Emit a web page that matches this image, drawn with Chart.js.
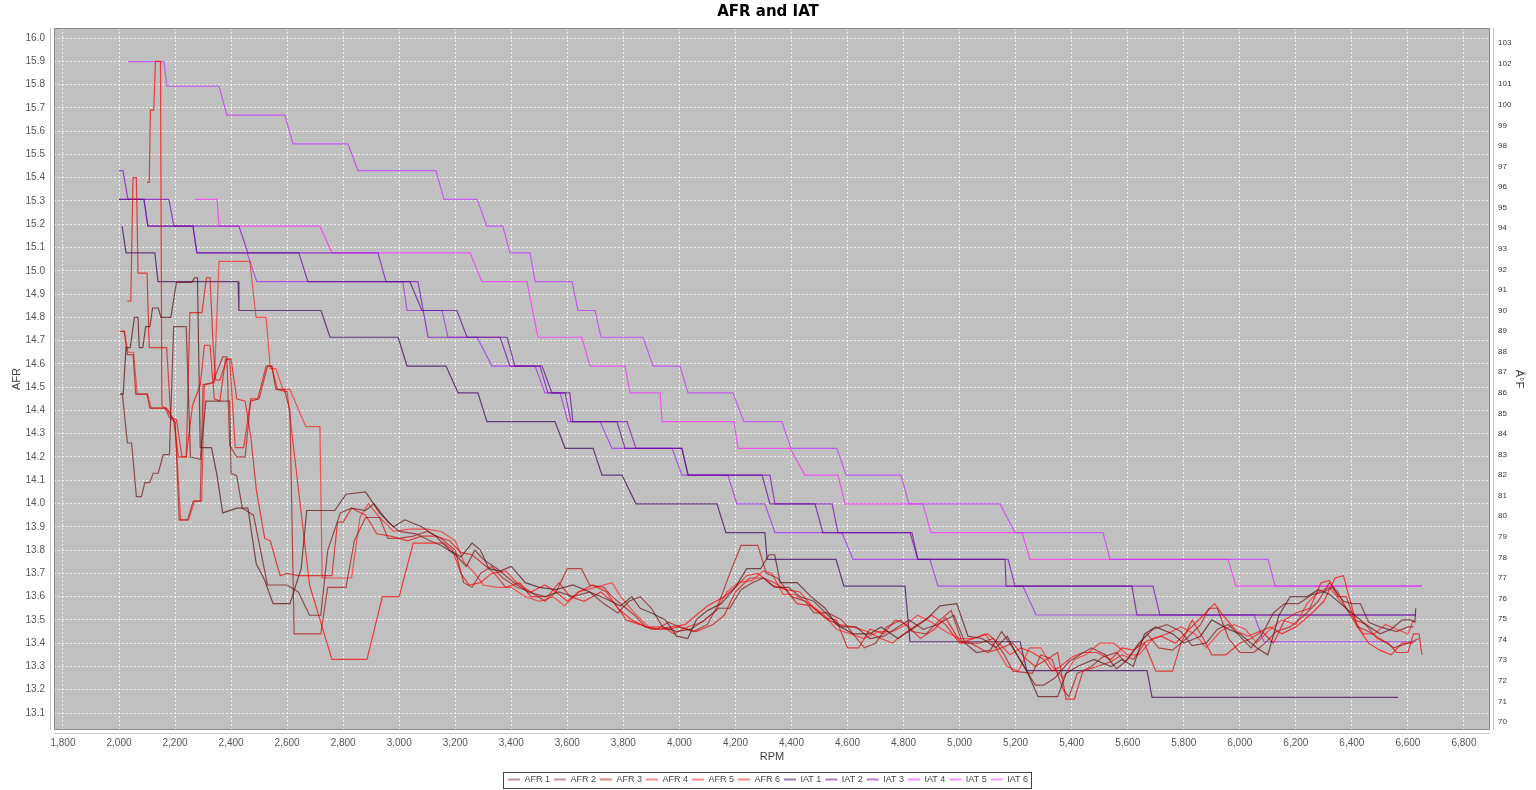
<!DOCTYPE html>
<html lang="en">
<head>
  <meta charset="UTF-8">
  <title>AFR and IAT</title>
  <script src="https://cdn.jsdelivr.net/npm/chart.js"></script>
  <style>
    body { margin: 0; background: #fff; }
    canvas { display: block; }
  </style>
</head>
<body>
  <canvas id="afrChart" width="1536" height="790"></canvas>
  <script>
    // --- log data, [rpm, value] pairs ---
    const afr1 = [[2005,14.47],[2015,14.47],[2025,14.67],[2040,14.67],[2055,14.80],[2068,14.80],[2072,14.67],[2085,14.67],[2095,14.76],[2110,14.76],[2120,14.84],[2140,14.84],[2150,14.80],[2185,14.80],[2205,14.95],[2260,14.95],[2270,14.97],[2280,14.97],[2290,14.24],[2330,14.24],[2350,14.12],[2370,13.96],[2420,13.98],[2460,13.98],[2490,13.74],[2520,13.67],[2550,13.57],[2610,13.57],[2650,13.72],[2670,13.97],[2770,13.97],[2810,14.04],[2880,14.05],[2930,13.96],[2980,13.90],[3020,13.93],[3080,13.90],[3130,13.86],[3180,13.80],[3220,13.77],[3260,13.83],[3290,13.80],[3320,13.72],[3360,13.71],[3400,13.73],[3450,13.66],[3500,13.64],[3560,13.63],[3620,13.65],[3680,13.62],[3740,13.59],[3790,13.56],[3830,13.60],[3860,13.55],[3900,13.53],[3950,13.50],[3990,13.43],[4030,13.42],[4060,13.50],[4100,13.54],[4150,13.57],[4200,13.64],[4240,13.72],[4290,13.72],[4320,13.78],[4340,13.78],[4360,13.66],[4420,13.66],[4470,13.60],[4520,13.55],[4560,13.48],[4620,13.44],[4680,13.44],[4720,13.47],[4780,13.42],[4830,13.46],[4880,13.50],[4930,13.56],[4990,13.57],[5030,13.43],[5080,13.42],[5130,13.38],[5170,13.43],[5200,13.36],[5240,13.28],[5280,13.17],[5350,13.17],[5380,13.27],[5420,13.30],[5480,13.33],[5540,13.30],[5580,13.33],[5620,13.30],[5660,13.44],[5700,13.47],[5760,13.44],[5800,13.40],[5860,13.43],[5900,13.50],[5960,13.46],[6000,13.44],[6060,13.38],[6100,13.35],[6140,13.52],[6180,13.60],[6240,13.60],[6280,13.63],[6320,13.61],[6360,13.57],[6400,13.53],[6450,13.48],[6500,13.44],[6540,13.46],[6580,13.50],[6610,13.50],[6625,13.49],[6628,13.55]];
    const afr2 = [[2005,14.47],[2012,14.47],[2030,14.26],[2045,14.26],[2062,14.03],[2080,14.03],[2092,14.09],[2110,14.09],[2122,14.13],[2140,14.13],[2158,14.21],[2180,14.21],[2195,14.76],[2240,14.76],[2255,14.20],[2290,14.19],[2310,14.44],[2395,14.44],[2400,14.13],[2420,14.12],[2440,13.98],[2480,13.95],[2530,13.65],[2600,13.65],[2640,13.62],[2680,13.52],[2720,13.52],[2745,13.80],[2790,13.96],[2830,13.98],[2880,13.97],[2910,14.00],[2960,13.92],[3000,13.88],[3060,13.87],[3110,13.84],[3150,13.82],[3200,13.78],[3240,13.73],[3270,13.80],[3300,13.76],[3350,13.72],[3410,13.66],[3460,13.62],[3520,13.60],[3570,13.62],[3620,13.60],[3680,13.62],[3730,13.57],[3780,13.53],[3820,13.58],[3860,13.60],[3900,13.55],[3940,13.47],[3990,13.45],[4040,13.46],[4090,13.50],[4140,13.55],[4180,13.55],[4220,13.63],[4260,13.66],[4300,13.68],[4340,13.64],[4390,13.64],[4430,13.60],[4480,13.58],[4530,13.52],[4580,13.47],[4630,13.47],[4680,13.42],[4730,13.43],[4780,13.47],[4820,13.50],[4870,13.46],[4920,13.48],[4980,13.52],[5020,13.40],[5060,13.36],[5110,13.37],[5150,13.45],[5190,13.38],[5230,13.30],[5270,13.22],[5300,13.22],[5340,13.25],[5390,13.32],[5430,13.35],[5470,13.38],[5520,13.35],[5560,13.29],[5600,13.33],[5640,13.40],[5690,13.46],[5740,13.48],[5790,13.45],[5830,13.39],[5880,13.40],[5920,13.46],[5960,13.48],[6000,13.43],[6040,13.38],[6080,13.44],[6120,13.53],[6160,13.57],[6210,13.57],[6260,13.61],[6300,13.62],[6330,13.64],[6370,13.58],[6400,13.57],[6430,13.57],[6460,13.49],[6500,13.47],[6560,13.45],[6600,13.47],[6620,13.47]];
    const afr3 = [[2005,14.74],[2018,14.74],[2030,14.64],[2050,14.64],[2060,14.47],[2100,14.47],[2110,14.41],[2165,14.41],[2180,14.37],[2200,14.35],[2215,13.93],[2245,13.93],[2265,14.01],[2290,14.01],[2300,14.51],[2335,14.52],[2370,14.63],[2385,14.63],[2395,14.25],[2420,14.20],[2450,14.20],[2470,14.44],[2500,14.45],[2530,14.59],[2545,14.59],[2560,14.49],[2590,14.49],[2610,14.40],[2625,13.44],[2720,13.44],[2745,13.64],[2810,13.64],[2840,13.84],[2880,13.94],[2930,13.94],[2960,13.85],[3000,13.85],[3050,13.86],[3100,13.88],[3150,13.85],[3200,13.80],[3230,13.66],[3260,13.64],[3290,13.70],[3330,13.73],[3370,13.68],[3420,13.64],[3470,13.62],[3520,13.58],[3560,13.62],[3600,13.72],[3650,13.72],[3680,13.65],[3730,13.64],[3760,13.60],[3800,13.56],[3840,13.52],[3880,13.47],[3920,13.46],[3960,13.49],[4000,13.47],[4050,13.45],[4100,13.48],[4140,13.57],[4180,13.70],[4220,13.82],[4280,13.82],[4310,13.70],[4350,13.68],[4400,13.60],[4450,13.58],[4480,13.53],[4530,13.53],[4580,13.50],[4620,13.44],[4660,13.38],[4700,13.40],[4740,13.47],[4790,13.50],[4830,13.45],[4880,13.44],[4930,13.50],[4970,13.54],[5010,13.40],[5070,13.40],[5120,13.42],[5160,13.35],[5190,13.28],[5260,13.27],[5290,13.35],[5330,13.33],[5370,13.20],[5390,13.17],[5420,13.27],[5470,13.30],[5510,13.34],[5560,13.36],[5590,13.32],[5630,13.38],[5670,13.44],[5710,13.38],[5760,13.37],[5810,13.42],[5860,13.48],[5890,13.55],[5920,13.55],[5960,13.42],[6000,13.36],[6050,13.36],[6090,13.40],[6130,13.45],[6180,13.47],[6230,13.52],[6280,13.58],[6320,13.66],[6350,13.62],[6380,13.55],[6420,13.47],[6460,13.45],[6500,13.42],[6550,13.38],[6600,13.40],[6640,13.42]];
    const afr4 = [[2030,14.87],[2042,14.87],[2050,15.40],[2062,15.40],[2068,14.99],[2100,14.99],[2108,14.67],[2170,14.67],[2185,14.37],[2205,14.36],[2225,14.20],[2240,14.20],[2253,14.82],[2296,14.82],[2312,14.97],[2325,14.97],[2335,14.70],[2345,14.53],[2360,14.53],[2385,14.62],[2400,14.62],[2420,14.45],[2450,14.44],[2470,14.29],[2490,14.06],[2520,13.85],[2540,13.84],[2575,13.69],[2600,13.70],[2640,13.69],[2700,13.69],[2760,13.69],[2780,13.92],[2800,13.92],[2830,13.98],[2880,13.95],[2920,13.87],[2970,13.86],[3030,13.84],[3080,13.86],[3130,13.86],[3180,13.84],[3220,13.79],[3260,13.78],[3300,13.74],[3340,13.70],[3380,13.64],[3430,13.66],[3470,13.60],[3530,13.60],[3570,13.66],[3610,13.60],[3660,13.58],[3720,13.62],[3770,13.57],[3810,13.50],[3860,13.48],[3900,13.46],[3960,13.46],[4000,13.47],[4060,13.45],[4120,13.48],[4160,13.52],[4200,13.62],[4250,13.68],[4300,13.68],[4340,13.66],[4380,13.63],[4420,13.57],[4470,13.56],[4520,13.51],[4560,13.50],[4600,13.38],[4640,13.38],[4680,13.46],[4730,13.44],[4770,13.50],[4810,13.48],[4860,13.42],[4910,13.46],[4950,13.51],[5000,13.41],[5040,13.40],[5100,13.36],[5150,13.38],[5190,13.40],[5230,13.34],[5270,13.30],[5310,13.33],[5350,13.36],[5380,13.16],[5410,13.16],[5440,13.28],[5490,13.30],[5540,13.32],[5580,13.35],[5620,13.33],[5660,13.40],[5700,13.28],[5760,13.28],[5790,13.40],[5830,13.50],[5870,13.42],[5900,13.35],[5950,13.35],[6000,13.40],[6040,13.42],[6080,13.45],[6120,13.40],[6160,13.50],[6200,13.53],[6250,13.55],[6290,13.66],[6320,13.67],[6350,13.60],[6380,13.60],[6410,13.50],[6450,13.48],[6490,13.42],[6530,13.40],[6560,13.36],[6600,13.36],[6620,13.44],[6640,13.44],[6650,13.35]];
    const afr5 = [[2100,15.38],[2108,15.38],[2112,15.69],[2124,15.69],[2130,15.90],[2148,15.90],[2153,14.42],[2175,14.40],[2195,14.36],[2212,14.20],[2240,14.20],[2262,14.42],[2290,14.51],[2305,14.68],[2325,14.68],[2340,14.45],[2360,14.44],[2380,14.62],[2395,14.62],[2415,14.24],[2445,14.24],[2470,14.45],[2495,14.45],[2525,14.59],[2545,14.59],[2565,14.49],[2600,14.48],[2680,13.65],[2760,13.33],[2885,13.33],[2940,13.60],[3000,13.60],[3050,13.83],[3160,13.83],[3190,13.80],[3220,13.70],[3250,13.65],[3290,13.66],[3330,13.70],[3380,13.71],[3420,13.66],[3470,13.62],[3520,13.65],[3560,13.62],[3600,13.58],[3640,13.62],[3690,13.65],[3740,13.62],[3780,13.55],[3830,13.50],[3880,13.47],[3930,13.46],[3970,13.47],[4020,13.48],[4060,13.52],[4100,13.56],[4160,13.60],[4200,13.64],[4240,13.69],[4280,13.70],[4330,13.65],[4380,13.63],[4430,13.62],[4480,13.55],[4530,13.50],[4570,13.48],[4620,13.47],[4670,13.45],[4720,13.42],[4760,13.40],[4800,13.44],[4850,13.48],[4900,13.52],[4950,13.48],[5000,13.40],[5050,13.42],[5100,13.44],[5140,13.40],[5180,13.35],[5220,13.38],[5260,13.36],[5300,13.33],[5330,13.28],[5360,13.30],[5400,13.34],[5440,13.36],[5490,13.36],[5540,13.33],[5580,13.38],[5620,13.37],[5670,13.41],[5720,13.43],[5770,13.40],[5820,13.46],[5870,13.52],[5910,13.57],[5940,13.52],[5990,13.45],[6030,13.43],[6070,13.45],[6110,13.47],[6150,13.44],[6200,13.47],[6250,13.52],[6300,13.58],[6340,13.68],[6370,13.69],[6390,13.60],[6420,13.47],[6460,13.40],[6500,13.37],[6540,13.35],[6580,13.40],[6620,13.40]];
    const afr6 = [[2005,14.74],[2020,14.74],[2032,14.65],[2052,14.65],[2065,14.47],[2102,14.47],[2115,14.41],[2170,14.41],[2188,14.37],[2200,14.35],[2220,13.93],[2248,13.93],[2270,14.01],[2295,14.01],[2305,14.51],[2340,14.52],[2357,15.04],[2467,15.04],[2489,14.80],[2525,14.80],[2540,14.58],[2560,14.58],[2585,14.49],[2610,14.49],[2667,14.33],[2717,14.33],[2725,13.68],[2830,13.68],[2860,13.94],[2890,14.00],[2930,13.94],[2980,13.88],[3040,13.89],[3100,13.89],[3150,13.88],[3200,13.84],[3230,13.75],[3270,13.70],[3300,13.65],[3350,13.64],[3400,13.64],[3450,13.60],[3500,13.58],[3550,13.60],[3590,13.56],[3640,13.62],[3700,13.64],[3760,13.66],[3790,13.60],[3840,13.53],[3890,13.47],[3940,13.47],[3980,13.44],[4030,13.47],[4080,13.49],[4130,13.54],[4170,13.62],[4210,13.66],[4260,13.67],[4300,13.71],[4330,13.70],[4370,13.61],[4410,13.61],[4460,13.57],[4510,13.53],[4560,13.46],[4610,13.44],[4660,13.42],[4710,13.45],[4760,13.45],[4810,13.48],[4850,13.52],[4900,13.49],[4950,13.45],[5000,13.42],[5050,13.42],[5090,13.44],[5130,13.38],[5170,13.30],[5210,13.28],[5250,13.38],[5290,13.38],[5330,13.30],[5370,13.25],[5410,13.33],[5450,13.35],[5500,13.40],[5550,13.40],[5600,13.35],[5640,13.35],[5690,13.42],[5740,13.44],[5790,13.47],[5840,13.44],[5880,13.38],[5930,13.45],[5980,13.48],[6020,13.46],[6060,13.40],[6100,13.45],[6150,13.50],[6200,13.48],[6240,13.57],[6280,13.62],[6320,13.64],[6360,13.58],[6400,13.52],[6440,13.44],[6480,13.44],[6520,13.48],[6560,13.46],[6600,13.44],[6620,13.50]];

    const iat1 = [[2011,94.1],[2025,92.8],[2128,92.8],[2139,91.4],[2425,91.4],[2428,90.0],[2721,90.0],[2753,88.7],[2996,88.7],[3028,87.3],[3167,87.3],[3210,86.0],[3281,86.0],[3313,84.6],[3556,84.6],[3592,83.3],[3692,83.3],[3724,82.0],[3795,82.0],[3845,80.6],[4134,80.6],[4166,79.2],[4305,79.2],[4313,77.9],[4559,77.9],[4587,76.6],[4805,76.6],[4823,73.9],[5216,73.9],[5240,72.5],[5669,72.5],[5687,71.2],[6565,71.2]];
    const iat2 = [[2000,95.4],[2089,95.4],[2103,94.1],[2264,94.1],[2278,92.8],[2642,92.8],[2674,91.4],[3038,91.4],[3081,90.0],[3206,90.0],[3242,88.7],[3385,88.7],[3413,87.3],[3510,87.3],[3545,86.0],[3609,86.0],[3620,84.6],[3777,84.6],[3806,83.3],[4009,83.3],[4031,82.0],[4295,82.0],[4323,80.6],[4484,80.6],[4512,79.2],[4830,79.2],[4851,77.9],[5162,77.9],[5166,76.6],[5615,76.6],[5633,75.2],[6629,75.2]];
    const iat3 = [[2000,96.8],[2014,96.8],[2032,95.4],[2178,95.4],[2196,94.1],[2428,94.1],[2460,92.8],[2924,92.8],[2953,91.4],[3067,91.4],[3103,88.7],[3360,88.7],[3395,87.3],[3502,87.3],[3531,86.0],[3592,86.0],[3613,84.6],[3813,84.6],[3845,83.3],[4009,83.3],[4031,82.0],[4323,82.0],[4341,80.6],[4545,80.6],[4566,79.2],[4823,79.2],[4851,77.9],[5173,77.9],[5198,76.6],[5690,76.6],[5715,75.2],[6629,75.2]];
    const iat4 = [[2000,95.4],[2089,95.4],[2103,94.1],[2264,94.1],[2278,92.8],[2457,92.8],[2492,91.4],[3013,91.4],[3028,90.0],[3153,90.0],[3174,88.7],[3278,88.7],[3331,87.3],[3485,87.3],[3520,86.0],[3574,86.0],[3602,84.6],[3717,84.6],[3759,83.3],[3974,83.3],[4009,82.0],[4173,82.0],[4205,80.6],[4305,80.6],[4341,79.2],[4580,79.2],[4620,77.9],[4894,77.9],[4923,76.6],[5226,76.6],[5273,75.2],[6051,75.2],[6086,73.9],[6629,73.9]];
    const iat5 = [[2032,102.1],[2160,102.1],[2171,100.9],[2357,100.9],[2385,99.5],[2592,99.5],[2621,98.1],[2817,98.1],[2853,96.8],[3131,96.8],[3160,95.4],[3278,95.4],[3313,94.1],[3370,94.1],[3395,92.8],[3467,92.8],[3485,91.4],[3617,91.4],[3638,90.0],[3699,90.0],[3720,88.7],[3870,88.7],[3906,87.3],[4002,87.3],[4031,86.0],[4191,86.0],[4230,84.6],[4366,84.6],[4398,83.3],[4562,83.3],[4595,82.0],[4791,82.0],[4819,80.6],[5144,80.6],[5198,79.2],[5512,79.2],[5537,77.9],[6101,77.9],[6126,76.6],[6650,76.6]];
    const iat6 = [[2271,95.4],[2350,95.4],[2357,94.1],[2717,94.1],[2760,92.8],[3253,92.8],[3295,91.4],[3456,91.4],[3495,88.7],[3652,88.7],[3681,87.3],[3806,87.3],[3824,86.0],[3931,86.0],[3938,84.6],[4195,84.6],[4209,83.3],[4395,83.3],[4448,82.0],[4566,82.0],[4591,80.6],[4869,80.6],[4898,79.2],[5223,79.2],[5251,77.9],[5958,77.9],[5986,76.6],[6650,76.6]];

    const afrNames = ['AFR 1', 'AFR 2', 'AFR 3', 'AFR 4', 'AFR 5', 'AFR 6'];
    const iatNames = ['IAT 1', 'IAT 2', 'IAT 3', 'IAT 4', 'IAT 5', 'IAT 6'];
    const afrSeries = [afr1, afr2, afr3, afr4, afr5, afr6];
    const iatSeries = [iat1, iat2, iat3, iat4, iat5, iat6];

    // axis ranges
    const rpmRange = [1768, 6893];
    const afrRange = [13.027, 16.043];
    const tempRange = [69.61, 103.73];

    const afrColors = ['rgba(90,15,15,0.7)', 'rgba(120,25,25,0.7)', 'rgba(175,20,20,0.7)', 'rgba(230,10,10,0.7)', 'rgba(255,0,0,0.7)', 'rgba(255,35,35,0.7)'];
    const iatColors = ['rgba(60,0,90,0.7)', 'rgba(95,10,145,0.7)', 'rgba(125,10,195,0.7)', 'rgba(160,40,240,0.7)', 'rgba(195,50,255,0.7)', 'rgba(255,40,255,0.7)'];
    // paler swatches, as in the legend of the original
    const afrSwatch = ['rgba(120,40,40,0.5)', 'rgba(140,40,40,0.5)', 'rgba(200,30,30,0.55)', 'rgba(255,40,40,0.55)', 'rgba(255,40,40,0.55)', 'rgba(255,40,40,0.55)'];
    const iatSwatch = ['rgba(70,10,100,0.55)', 'rgba(100,20,150,0.55)', 'rgba(130,20,200,0.55)', 'rgba(230,60,255,0.55)', 'rgba(230,60,255,0.55)', 'rgba(255,60,255,0.55)'];

    const toXY = pairs => pairs.map(p => ({ x: p[0], y: p[1] }));

    const datasets = [
      ...afrSeries.map((s, i) => ({ label: afrNames[i], data: toXY(s), borderColor: afrColors[i],
        pointBorderColor: afrSwatch[i], pointBackgroundColor: afrSwatch[i], yAxisID: 'y' })),
      ...iatSeries.map((s, i) => ({ label: iatNames[i], data: toXY(s), borderColor: iatColors[i],
        pointBorderColor: iatSwatch[i], pointBackgroundColor: iatSwatch[i], yAxisID: 'y2' }))
    ];

    // grey plot background, frame, offset axis lines and legend box
    const plotFrame = {
      id: 'plotFrame',
      beforeLayout(chart) {
        const lg = chart.legend;
        if (lg && !lg._shrunk) {
          const fit = lg.fit.bind(lg);
          lg.fit = function () { fit(); this.height -= 4; };
          lg._shrunk = true;
        }
      },
      beforeDraw(chart) {
        const { ctx, chartArea: a } = chart;
        ctx.save();
        ctx.fillStyle = '#fff';
        ctx.fillRect(0, 0, chart.width, chart.height);
        ctx.fillStyle = '#c0c0c0';
        ctx.fillRect(a.left, a.top, a.right - a.left, a.bottom - a.top);
        ctx.restore();
      },
      afterDraw(chart) {
        const { ctx, chartArea: a, legend } = chart;
        ctx.save();
        ctx.lineWidth = 1;
        ctx.strokeStyle = '#8a8a8a';
        ctx.strokeRect(a.left + 0.5, a.top + 0.5, a.right - a.left - 1, a.bottom - a.top - 1);
        ctx.strokeStyle = '#c8c8c8';
        ctx.beginPath();
        ctx.moveTo(a.left, a.bottom + 3.5); ctx.lineTo(a.right, a.bottom + 3.5);
        ctx.moveTo(a.left - 3.5, a.top); ctx.lineTo(a.left - 3.5, a.bottom);
        ctx.moveTo(a.right + 3.5, a.top); ctx.lineTo(a.right + 3.5, a.bottom);
        ctx.stroke();
        if (legend && legend.legendHitBoxes && legend.legendHitBoxes.length) {
          const hb = legend.legendHitBoxes;
          const l = Math.min(...hb.map(h => h.left)) - 5;
          const r = Math.max(...hb.map(h => h.left + h.width)) + 3;
          ctx.strokeStyle = '#444';
          ctx.strokeRect(Math.round(l) + 0.5, legend.top + 1.5, Math.round(r - l), legend.height - 3);
        }
        ctx.restore();
      }
    };

    Chart.defaults.font.family = '"Liberation Sans", Arial, sans-serif';

    new Chart(document.getElementById('afrChart'), {
      type: 'line',
      data: { datasets },
      options: {
        responsive: false,
        animation: false,
        devicePixelRatio: 1,
        layout: { padding: 0 },
        elements: {
          point: { radius: 0, borderWidth: 2 },
          line: { borderWidth: 1.2, tension: 0 }
        },
        plugins: {
          title: {
            display: true, text: 'AFR and IAT', color: '#000',
            font: { family: '"DejaVu Sans"', size: 15, weight: 'bold' },
            padding: { top: 3, bottom: 7 }
          },
          legend: {
            position: 'bottom',
            labels: { usePointStyle: true, pointStyle: 'line', pointStyleWidth: 12, font: { size: 9 }, color: '#444', padding: 4 }
          },
          tooltip: { enabled: false }
        },
        scales: {
          x: {
            type: 'linear', min: rpmRange[0], max: rpmRange[1],
            afterFit: s => { s.height = 41; },
            title: { display: true, text: 'RPM', color: '#444', font: { size: 11 }, padding: { top: 0, bottom: 7 } },
            ticks: { stepSize: 200, includeBounds: false, autoSkip: false, maxRotation: 0, padding: 7, color: '#555', font: { size: 10 },
                     callback: v => v.toLocaleString('en-US') },
            grid: { color: 'rgba(255,255,255,0.75)', drawTicks: false },
            border: { display: false, dash: [2, 2] }
          },
          y: {
            position: 'left', min: afrRange[0], max: afrRange[1],
            afterFit: s => { s.width = 54; },
            title: { display: true, text: 'AFR', color: '#444', font: { size: 11 }, padding: { top: 10, bottom: 0 } },
            ticks: { stepSize: 0.1, includeBounds: false, autoSkip: false, padding: 9, color: '#555', font: { size: 10 },
                     callback: v => v.toFixed(1) },
            grid: { color: 'rgba(255,255,255,0.75)', drawTicks: false },
            border: { display: false, dash: [2, 2] }
          },
          y2: {
            position: 'right', min: tempRange[0], max: tempRange[1],
            afterFit: s => { s.width = 46; },
            title: { display: true, text: 'Â°F', color: '#333', font: { size: 11 }, padding: { top: 10, bottom: 0 } },
            ticks: { stepSize: 1, includeBounds: false, autoSkip: false, padding: 8, color: '#333', font: { size: 8 } },
            grid: { drawOnChartArea: false, drawTicks: false },
            border: { display: false }
          }
        }
      },
      plugins: [plotFrame]
    });
  </script>
</body>
</html>
